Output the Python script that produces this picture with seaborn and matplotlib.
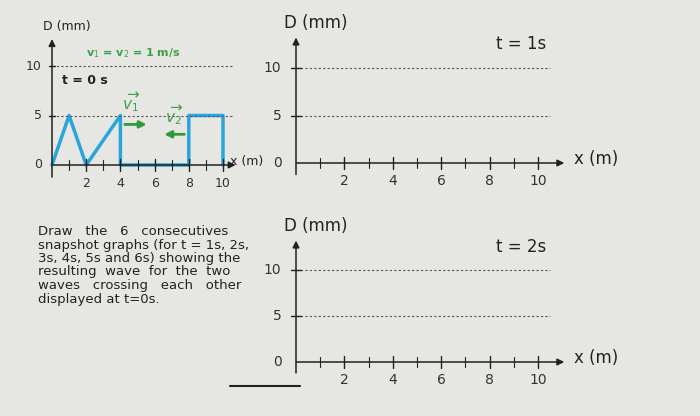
import matplotlib.pyplot as plt
import seaborn as sns
import pandas as pd

# wave at t = 0 s
wave_x = [0, 1, 2, 4, 4, 8, 8, 10, 10]
wave_d = [0, 5, 0, 5, 0, 0, 5, 5, 0]
x_ticks = [2, 4, 6, 8, 10]
y_ticks = [0, 5, 10]
snap_titles = ["t = 1s", "t = 2s"]

sns.set_style("white")
plt.rcParams['font.family'] = ['DejaVu Sans']
W, H = 700, 416
fig = plt.figure(figsize=(7, 4.16), dpi=100)
fig.patch.set_facecolor("#e6e6e3")


def make_axes(ox, oy, ux, uy, xlim, ylim):
    # origin in pixels, units in px per data unit
    left = ox + xlim[0] * ux
    right = ox + xlim[1] * ux
    bottom = oy - ylim[0] * uy
    top = oy - ylim[1] * uy
    ax = fig.add_axes([left / W, 1 - bottom / H, (right - left) / W, (bottom - top) / H])
    ax.set_xlim(*xlim)
    ax.set_ylim(*ylim)
    ax.axis("off")
    ax.patch.set_alpha(0)
    return ax


def draw_frame(ax, xend, yend, fs, label_fs, dash_end, xlab_off):
    ax.annotate("", xy=(xend, 0), xytext=(-0.1, 0),
                arrowprops=dict(arrowstyle="-|>", color="#222", lw=1.1))
    ax.annotate("", xy=(0, yend), xytext=(0, -1.5),
                arrowprops=dict(arrowstyle="-|>", color="#222", lw=1.1))
    for v in [5, 10]:
        ax.plot([0, dash_end], [v, v], ls=(0, (2, 2)), color="#555", lw=0.8)
        ax.plot([-0.2, 0.2], [v, v], color="#222", lw=1)
    for t in x_ticks:
        ax.plot([t, t], [-0.6, 0.6], color="#222", lw=1)
        ax.plot([t - 1, t - 1], [-0.5, 0.5], color="#222", lw=0.8)
        ax.text(t, -1.2, str(t), ha="center", va="top", fontsize=fs, color="#333")
    for v in y_ticks:
        ax.text(-0.6, v, str(v), ha="right", va="center", fontsize=fs, color="#333")
    ax.text(-0.5, yend + 0.3, "D (mm)", ha="left", va="bottom", fontsize=label_fs, color="#222")
    ax.text(xend + xlab_off, 0.4, "x (m)", ha="left", va="center", fontsize=label_fs, color="#222")


# left: the given snapshot
ax0 = make_axes(52, 165, 17.1, 9.9, (-1.5, 12), (-3, 14))
df = pd.DataFrame({"x": wave_x, "D": wave_d})
sns.lineplot(data=df, x="x", y="D", sort=False, estimator=None, ax=ax0,
             color="#2aa5dc", lw=2.5)
ax0.set_xlim(-1.5, 12)
ax0.set_ylim(-3, 14)
ax0.axis("off")
draw_frame(ax0, 10.9, 13, 9, 9, 10.5, -0.5)
ax0.text(2, 11, "v$_1$ = v$_2$ = 1 m/s", color="#3aa347", fontsize=8, fontweight="bold")
ax0.text(0.6, 8.2, "t = 0 s", color="#222", fontsize=9, fontweight="bold")
ax0.annotate("", xy=(5.7, 4.1), xytext=(4.1, 4.1),
             arrowprops=dict(arrowstyle="-|>", color="#2e9a3c", lw=2))
ax0.annotate("", xy=(6.4, 3.1), xytext=(7.9, 3.1),
             arrowprops=dict(arrowstyle="-|>", color="#2e9a3c", lw=2))
ax0.text(4.1, 5.6, r"$\overrightarrow{v_1}$", color="#3aa347", fontsize=11)
ax0.text(6.6, 4.3, r"$\overrightarrow{v_2}$", color="#3aa347", fontsize=11)

# right: empty snapshots to fill in
for (oy, uy), title in zip([(163, 9.5), (362, 9.2)], snap_titles):
    ax = make_axes(296, oy, 24.2, uy, (-1.5, 14), (-3, 15))
    draw_frame(ax, 11.2, 13.5, 10, 12, 10.5, 0.3)
    ax.text(9.3, 12.5, title, ha="center", va="center", fontsize=12, color="#222")

fig.text(38 / W, 1 - 225 / H,
         "Draw   the   6   consecutives\nsnapshot graphs (for t = 1s, 2s,\n"
         "3s, 4s, 5s and 6s) showing the\nresulting  wave  for  the  two\n"
         "waves   crossing   each   other\ndisplayed at t=0s.",
         ha="left", va="top", fontsize=9.5, color="#222", linespacing=1.05)
fig.add_artist(plt.Line2D([230 / W, 300 / W], [1 - 386 / H, 1 - 386 / H], color="#222", lw=1.5))

fig.savefig("out.png", dpi=100, facecolor=fig.get_facecolor())
